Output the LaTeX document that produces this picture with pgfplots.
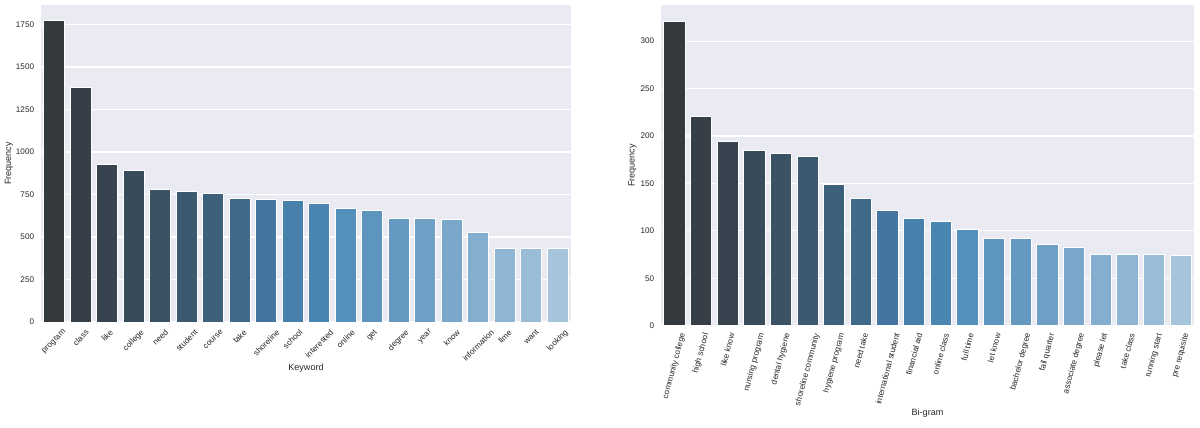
\documentclass[border=0pt]{standalone}
\usepackage{pgfplots}
\usepackage{pgfplotstable}
\usepackage{graphicx}
\usepackage{fontspec}
\setmainfont{Liberation Sans}
\pgfplotsset{compat=1.18}

\definecolor{bgc}{HTML}{EAEAF2}
\definecolor{txt}{HTML}{262626}
% Blues_d palette, 20 steps (dark to light)
\definecolor{c0}{HTML}{33393D}
\definecolor{c1}{HTML}{363F47}
\definecolor{c2}{HTML}{37444F}
\definecolor{c3}{HTML}{384B5A}
\definecolor{c4}{HTML}{3A5264}
\definecolor{c5}{HTML}{3C5A6F}
\definecolor{c6}{HTML}{3E617B}
\definecolor{c7}{HTML}{406A8A}
\definecolor{c8}{HTML}{4475A0}
\definecolor{c9}{HTML}{4880AC}
\definecolor{c10}{HTML}{4B86B3}
\definecolor{c11}{HTML}{558FBB}
\definecolor{c12}{HTML}{5E95BF}
\definecolor{c13}{HTML}{6699C0}
\definecolor{c14}{HTML}{6E9FC4}
\definecolor{c15}{HTML}{79A6C9}
\definecolor{c16}{HTML}{84AECF}
\definecolor{c17}{HTML}{8EB5D3}
\definecolor{c18}{HTML}{99BCD7}
\definecolor{c19}{HTML}{A5C5DC}

\pgfplotstableread{
x y
0 1775
1 1379
2 929
3 892
4 778
5 770
6 758
7 729
8 723
9 713
10 697
11 668
12 654
13 611
14 607
15 603
16 529
17 432
18 432
19 432
}\keywords

\pgfplotstableread{
x y
0 321
1 221
2 194
3 185
4 182
5 178
6 149
7 134
8 122
9 113
10 110
11 102
12 92.5
13 92.5
14 85.5
15 83
16 75
17 75
18 75
19 74
}\bigrams

\newcommand\ra[1]{\rotatebox{45}{#1}}
\newcommand\rb[1]{\rotatebox{75}{#1}}

\pgfplotsset{
  sb/.style={
    scale only axis,
    axis background/.style={fill=bgc},
    axis line style={draw=none},
    major tick length=0pt,
    ymajorgrids, xmajorgrids=false,
    grid style={white, line width=0.9pt},
    xmin=-0.5, xmax=19.5, ymin=0,
    xtick={0,...,19},
    ticklabel style={font=\fontsize{6.1}{7.2}\selectfont, text=txt, inner sep=0pt},
    label style={font=\fontsize{6.8}{8}\selectfont, text=txt},
    yticklabel shift=5pt,
    xticklabel shift=5pt,
    xticklabel style={anchor=north},
    /pgf/number format/assume math mode=true,
    /pgf/number format/1000 sep={},
  },
}

\begin{document}
\begin{tikzpicture}
\useasboundingbox (0,0) rectangle (900pt,321pt);

\begin{axis}[sb,
  at={(30.75pt,79.5pt)}, anchor=south west,
  width=397.5pt, height=237.75pt,
  ymax=1865,
  ytick={0,250,...,1750},
  xticklabels={\ra{program},\ra{class},\ra{like},\ra{college},\ra{need},\ra{student},\ra{course},\ra{take},\ra{shoreline},\ra{school},\ra{interested},\ra{online},\ra{get},\ra{degree},\ra{year},\ra{know},\ra{information},\ra{time},\ra{want},\ra{looking}},
  xlabel={Keyword}, ylabel={Frequency},
  xlabel style={at={(axis description cs:0.5,-0.145)}, anchor=center},
  ylabel style={at={(axis description cs:-0.0604,0.5)}, rotate=0, anchor=center},
]
\pgfplotsinvokeforeach{0,...,19}{
  \addplot[ybar, bar width=0.8, bar shift=0pt, fill=c#1, draw=white, line width=0.6pt,
    x filter/.expression={x==#1 ? x : nan}]
    table[x=x, y=y] {\keywords};
}
\end{axis}

\begin{axis}[sb,
  at={(495.75pt,76.7pt)}, anchor=south west,
  width=399.75pt, height=240.5pt,
  ymax=338,
  ytick={0,50,...,300},
  xticklabels={\rb{community college},\rb{high school},\rb{like know},\rb{nursing program},\rb{dental hygiene},\rb{shoreline community},\rb{hygiene program},\rb{need take},\rb{international student},\rb{financial aid},\rb{online class},\rb{full time},\rb{let know},\rb{bachelor degree},\rb{fall quarter},\rb{associate degree},\rb{please let},\rb{take class},\rb{running start},\rb{pre requisite}},
  xlabel={Bi-gram}, ylabel={Frequency},
  xlabel style={at={(axis description cs:0.5,-0.2715)}, anchor=center},
  ylabel style={at={(axis description cs:-0.0535,0.5)}, rotate=0, anchor=center},
]
\pgfplotsinvokeforeach{0,...,19}{
  \addplot[ybar, bar width=0.8, bar shift=0pt, fill=c#1, draw=white, line width=0.6pt,
    x filter/.expression={x==#1 ? x : nan}]
    table[x=x, y=y] {\bigrams};
}
\end{axis}
\end{tikzpicture}
\end{document}
